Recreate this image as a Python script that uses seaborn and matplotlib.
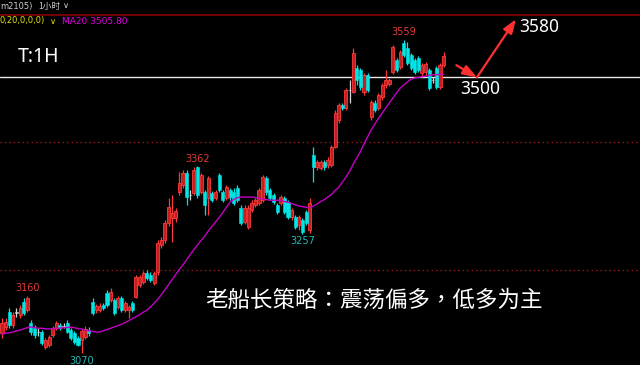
import numpy as np
import pandas as pd
import matplotlib
matplotlib.use("Agg")
import matplotlib.pyplot as plt
import seaborn as sns

sns.set_theme(style="dark")
plt.rcParams['font.family'] = ['Noto Sans CJK SC', 'DejaVu Sans']

opens = [3101,3111,3134,3114,3134,3130,3150,3137,3117,3109,3103,3103,3080,3083,3098,3109,3114,3112,3117,3106,3101,3094,3091,3095,3106,
         3150,3137,3137,3145,3164,3153,3153,3142,3156,3137,3137,3148,3158,3177,3181,3195,3192,3180,3197,3239,3247,3273,3281,3281,3322,
         3333,3352,3317,3320,3361,3322,3322,3312,3320,3312,3348,3322,3312,3325,3322,3328,3297,3275,3267,3294,3302,3305,3309,3344,3325,
         3317,3302,3305,3312,3306,3283,3283,3270,3278,3291,3262,3380,3361,3359,3369,3364,3364,3392,3434,3458,3453,3481,3478,3516,3512,
         3478,3505,3439,3461,3453,3470,3489,3491,3509,3528,3517,3555,3547,3536,3528,3531,3508,3509,3512,3497,3516,3486,3520]
closes = [3117,3119,3114,3130,3134,3141,3133,3156,3103,3098,3103,3086,3091,3095,3109,3117,3109,3112,3103,3094,3087,3083,3105,3108,3101,
          3133,3144,3144,3141,3145,3166,3133,3156,3137,3148,3142,3137,3189,3189,3195,3187,3184,3195,3242,3247,3273,3298,3289,3292,3336,
          3352,3314,3317,3356,3317,3348,3302,3344,3309,3322,3325,3309,3330,3314,3305,3309,3273,3297,3297,3305,3309,3325,3345,3322,3312,
          3306,3291,3314,3291,3283,3294,3267,3283,3259,3273,3305,3361,3369,3369,3361,3372,3392,3445,3458,3453,3481,3481,3539,3497,3486,
          3505,3481,3462,3450,3473,3489,3497,3497,3548,3512,3541,3536,3523,3516,3509,3512,3520,3522,3484,3497,3486,3520,3534]
highs = [3125,3125,3140,3134,3140,3145,3156,3160,3122,3114,3109,3106,3094,3098,3112,3120,3117,3117,3122,3109,3105,3097,3108,3112,3111,
         3156,3147,3148,3148,3169,3172,3156,3159,3159,3152,3145,3152,3192,3192,3198,3200,3197,3198,3247,3252,3278,3312,3317,3297,3353,
         3356,3356,3325,3361,3362,3352,3325,3347,3323,3325,3352,3325,3333,3328,3328,3333,3302,3302,3302,3309,3312,3328,3348,3347,3328,
         3320,3305,3317,3316,3309,3297,3286,3286,3281,3294,3312,3392,3372,3372,3372,3377,3395,3450,3461,3461,3484,3497,3547,3520,3516,
         3508,3508,3466,3466,3477,3492,3512,3500,3552,3531,3544,3559,3556,3539,3531,3534,3523,3525,3516,3502,3519,3523,3541]
lows = [3094,3106,3109,3109,3126,3125,3130,3134,3098,3094,3097,3083,3077,3080,3095,3106,3106,3109,3101,3091,3084,3081,3070,3092,3097,
        3130,3133,3134,3137,3142,3150,3130,3139,3134,3134,3125,3134,3156,3173,3178,3184,3181,3177,3192,3234,3242,3269,3244,3275,3317,
        3328,3302,3309,3317,3312,3319,3286,3286,3306,3309,3322,3306,3309,3309,3302,3306,3270,3272,3264,3291,3298,3302,3306,3317,3309,
        3303,3287,3302,3287,3280,3278,3264,3262,3257,3270,3258,3337,3356,3356,3356,3359,3361,3391,3430,3450,3450,3461,3477,3489,3481,
        3473,3478,3434,3447,3450,3466,3484,3487,3506,3509,3514,3533,3520,3512,3506,3509,3503,3505,3481,3492,3483,3483,3517]
ma20 = [3100,3101,3102,3103,3105,3106,3108,3110,3111,3110,3109,3109,3108,3108,3108,3109,3109,3110,3110,3111,
        3110,3108,3108,3106,3105,3104,3103,3103,3105,3107,3109,3111,3113,3115,3118,3121,3124,3127,3130,3134,
        3137,3142,3148,3154,3161,3169,3177,3185,3193,3201,3208,3216,3224,3232,3239,3246,3253,3261,3268,3275,
        3282,3290,3298,3306,3310,3313,3314,3314,3314,3314,3313,3312,3311,3310,3309,3309,3309,3309,3307,3306,
        3304,3302,3300,3299,3298,3297,3300,3303,3307,3310,3314,3318,3324,3329,3337,3345,3354,3365,3375,3385,
        3397,3408,3419,3428,3437,3445,3453,3461,3469,3477,3484,3489,3494,3498,3500,3501,3502,3503,3504,3505,
        3505,3506,3505.8]

peak_idx = [7, 54, 111]          # labelled highs
trough_idx = [22, 83]            # labelled lows
grid_levels = [3400, 3200]
level_line = 3500
target_level = 3580
title_txt = "T:1H"
strategy_txt = "老船长策略：震荡偏多，低多为主"

n = len(opens)
assert all(len(a) == n for a in (closes, highs, lows, ma20))
df = pd.DataFrame({"i": np.arange(n), "o": opens, "c": closes, "h": highs, "l": lows, "ma": ma20})

UP_FACE, UP_EDGE = "#c02020", "#ff3a3a"
DN = "#00e6e6"
DOJI = "#d8d8d8"
RED_TXT = "#e23a3a"
CY_TXT = "#22b8b8"

fig = plt.figure(figsize=(6.4, 3.65), dpi=100, facecolor="black")
ax = fig.add_axes([0, 0, 1, 1])
ax.set_facecolor("black")

YLIM = (3400 - 223 / 0.64, 3400 + 142 / 0.64)
XLIM = (-2 / 3.62, (640 - 2) / 3.62)

for lv in grid_levels:
    ax.axhline(lv, color="#9a1515", lw=1.0, ls=(0, (1, 2.2)), zorder=1)
ax.axhline(level_line + 2, color="#e8e8e8", lw=1.0, zorder=2)

up = df[df.c > df.o]
dn = df[df.c < df.o]
dj = df[df.c == df.o]

ax.vlines(up.i, up.l, up.h, color=UP_EDGE, lw=0.9, zorder=3)
ax.vlines(dn.i, dn.l, dn.h, color=DN, lw=0.9, zorder=3)
ax.vlines(dj.i, dj.l, dj.h, color=DOJI, lw=0.9, zorder=3)
ax.bar(up.i, up.c - up.o, bottom=up.o, width=0.84, color=UP_FACE, edgecolor=UP_EDGE, linewidth=0.6, zorder=4)
ax.bar(dn.i, dn.o - dn.c, bottom=dn.c, width=0.84, color=DN, edgecolor=DN, linewidth=0.4, zorder=4)
ax.bar(dj.i, np.full(len(dj), 1.0), bottom=dj.o - 0.5, width=0.84, color=DOJI, edgecolor=DOJI, linewidth=0.4, zorder=4)

sns.lineplot(data=df, x="i", y="ma", ax=ax, color="#c400c4", lw=1.0, zorder=5)
ax.set_xlim(*XLIM)
ax.set_ylim(*YLIM)
ax.axis("off")

for k in peak_idx:
    ax.annotate(f"{highs[k]}", (k, highs[k]), xytext=(0, 2), textcoords="offset points",
                ha="center", va="bottom", color=RED_TXT, fontsize=7, family=["DejaVu Sans"])
for k in trough_idx:
    ax.annotate(f"{lows[k]}", (k, lows[k]), xytext=(0, -2), textcoords="offset points",
                ha="center", va="top", color=CY_TXT, fontsize=7, family=["DejaVu Sans"])

# arrows
a_x0, a_x1, a_x2 = 125.5, 131.2, 142.0
ax.annotate("", xy=(a_x1, level_line + 1), xytext=(a_x0, level_line + 20),
            arrowprops=dict(arrowstyle="-|>,head_length=0.7,head_width=0.25", color="#ff3030", lw=1.6, shrinkA=0, shrinkB=0))
ax.annotate("", xy=(a_x2, target_level + 12), xytext=(a_x1, level_line + 1),
            arrowprops=dict(arrowstyle="-|>,head_length=0.7,head_width=0.25", color="#ff3030", lw=1.6, shrinkA=0, shrinkB=0))

ax.text(142.8, target_level, f"{target_level}", color="white", fontsize=12.5,
        family=["Noto Sans", "DejaVu Sans"], ha="left", va="center")
ax.text(126.5, level_line - 17, f"{level_line}", color="white", fontsize=12.5,
        family=["Noto Sans", "DejaVu Sans"], ha="left", va="center")

def fx(px):
    return px / 640.0

def fy(py):
    return 1 - py / 365.0

fig.text(fx(18), fy(57), title_txt, color="white", fontsize=14, family=["Noto Sans", "DejaVu Sans"],
         ha="left", va="center")
fig.text(fx(205), fy(300), strategy_txt, color="white", fontsize=16.2,
         family=["Noto Sans CJK TC", "DejaVu Sans"], ha="left", va="center")

# header
fig.add_artist(plt.Line2D([0, 1], [fy(14.5), fy(14.5)], color="#8a0000", lw=1.2, transform=fig.transFigure))
fig.text(fx(0), fy(6), "m2105)", color="#d0d0d0", fontsize=6, family=["DejaVu Sans"], ha="left", va="center")
fig.text(fx(38), fy(6), "1小时", color="#d0d0d0", fontsize=6.2, family=["Noto Sans CJK SC", "DejaVu Sans"], ha="left", va="center")
fig.text(fx(62.5), fy(6), "∨", color="#d0d0d0", fontsize=6, family=["DejaVu Sans"], ha="left", va="center")
fig.text(fx(0), fy(21), "0,20,0,0,0)", color="#e6e600", fontsize=6, family=["DejaVu Sans"], ha="left", va="center")
fig.text(fx(50), fy(21), "∨", color="#e6e600", fontsize=6, family=["DejaVu Sans"], ha="left", va="center")
fig.text(fx(62), fy(21), "MA20 3505.80", color="#e000e0", fontsize=6.5, family=["DejaVu Sans"], ha="left", va="center")

fig.savefig("out.png", dpi=100, facecolor="black")
